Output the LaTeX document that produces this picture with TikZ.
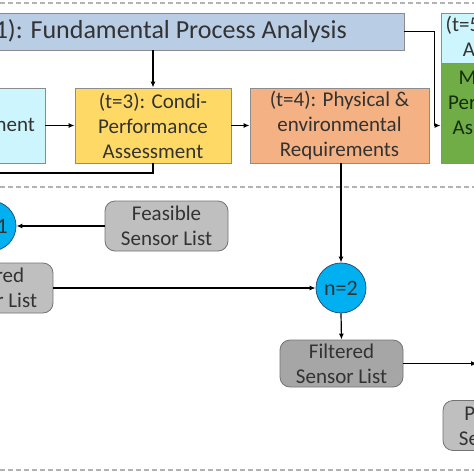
\documentclass[tikz,border=0pt]{standalone}
\usepackage{fontspec}
\setmainfont{Carlito}
\usetikzlibrary{arrows.meta,positioning}
\definecolor{FpaClr}{RGB}{185,205,229}
\definecolor{ReqClr}{RGB}{205,245,253}
\definecolor{CpaClr}{RGB}{255,217,102}
\definecolor{PerClr}{RGB}{244,177,131}
\definecolor{MpaClr}{RGB}{112,173,71}
\definecolor{MpaTxt}{RGB}{20,45,10}
\definecolor{CircClr}{RGB}{0,176,240}
\definecolor{CircBdr}{RGB}{40,80,120}
\definecolor{ListClr}{RGB}{191,191,191}
\definecolor{ListDark}{RGB}{166,166,166}

\begin{document}
\begin{tikzpicture}[x=1pt,y=-1pt,
  box/.style={draw=black!45,line width=0.8pt,inner sep=0pt,align=center,text=black!80,
    font=\fontsize{21}{25}\selectfont,minimum height=75pt},
  list/.style={draw=black!55,line width=0.8pt,rounded corners=10pt,fill=ListClr,
    inner sep=0pt,align=center,minimum width=123pt,minimum height=50pt,text=black!80,
    font=\fontsize{21}{25}\selectfont},
  stage/.style={circle,draw=CircBdr,line width=0.8pt,fill=CircClr,text=black!80,
    minimum size=50pt,inner sep=0pt,font=\fontsize{22}{24}\selectfont},
  flow/.style={line width=1.2pt,-{Latex[length=6pt,width=5pt]}},
  sep/.style={draw=black!30,line width=1.6pt,dash pattern=on 5pt off 3pt}]
\clip (0,0) rectangle (474,474);

% phases
\node[box,fill=FpaClr,minimum width=496pt,minimum height=37pt,
  font=\fontsize{26}{30}\selectfont] (fpa) at (156,31.5) {(t=1): Fundamental Process Analysis};
\node[box,fill=ReqClr,minimum width=205pt,text width=185pt,align=right] (req) at (-57.5,125.5) {(t=2): Requirement};
\node[box,fill=CpaClr,minimum width=156pt] (cpa) at (153,125.5) {(t=3): Condi-\\Performance\\Assessment};
\node[box,fill=PerClr,minimum width=179pt] (per) at (339.5,125.5) {(t=4): Physical \&\\environmental\\Requirements};
\node[box,fill=ReqClr,minimum width=120pt,minimum height=50pt] (acc) at (501,38) {(t=5): Sensor\\Accuracy};
\node[box,fill=MpaClr,minimum width=120pt,minimum height=100pt] (mpa) at (501,113) {};
\node[align=center,inner sep=0pt,font=\fontsize{21}{25}\selectfont,text=MpaTxt] (mpatxt) at (503,102) {Metrology\\Performance\\Assessment};

% filtering
\node[stage] (n1) at (-9,226) {n=1};
\node[stage] (n2) at (341,288) {n=2};
\node[list] (feas) at (166.5,226) {Feasible\\Sensor List};
\node[list] (filt1) at (-8.5,288) {Filtered\\Sensor List};
\node[list,fill=ListDark,minimum height=47pt] (filt2) at (341.5,363.5) {Filtered\\Sensor List};
\node[list] (pref) at (504.5,425.5) {Preferred\\Sensor List};
\coordinate (back) at (-10,173);
\coordinate (next) at (477,363.5);

\draw[sep] (0,3) -- (474,3);
\draw[sep] (0,187) -- (474,187);
\draw[sep] (0,470) -- (474,470);

\draw[flow] (fpa.south -| cpa.north) -- (cpa.north);
\draw[flow] (fpa.east) -- ++(30,0) |- (mpa.west |- per.east);
\draw[flow] (req.east) -- (cpa.west);
\draw[flow] (cpa.east) -- (per.west);
\draw[line width=1.2pt] (cpa.south) |- (back);
\draw[flow] (per.south -| n2.north) -- (n2.north);
\draw[flow] (feas.west) -- (n1.east);
\draw[flow] (filt1.east) -- (n2.west);
\draw[flow] (n2.south) -- (filt2.north);
\draw[flow] (filt2.east) -- (next);
\end{tikzpicture}
\end{document}
